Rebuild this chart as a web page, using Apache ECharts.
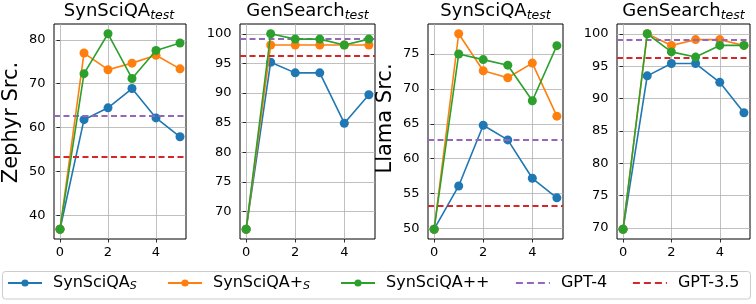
<!DOCTYPE html>
<html>
<head>
<meta charset="utf-8">
<script src="https://cdn.jsdelivr.net/npm/echarts@6/dist/echarts.min.js"></script>
<style>
  html, body { margin: 0; padding: 0; background: #fff; }
  #chart { width: 756px; height: 304px; }
</style>
</head>
<body>
<div id="chart"></div>
<script>
// x positions (steps)
const steps = [0, 1, 2, 3, 4, 5];

// Zephyr source, SynSciQA test
const zSciS      = [36.8, 61.8, 64.5, 68.9, 62.2, 57.9];
const zSciPlusS  = [36.8, 77.0, 73.2, 74.7, 76.5, 73.4];
const zSciPP     = [36.8, 72.3, 81.4, 71.2, 77.6, 79.3];
const zSciGpt4 = 62.7, zSciGpt35 = 53.3;

// Zephyr source, GenSearch test
const zGenS      = [67.0, 95.2, 93.4, 93.4, 84.9, 89.7];
const zGenPlusS  = [67.0, 98.1, 98.1, 98.1, 98.1, 98.1];
const zGenPP     = [67.0, 100.0, 99.1, 99.1, 98.1, 99.1];
const zGenGpt4 = 99.15, zGenGpt35 = 96.3;

// Llama source, SynSciQA test
const lSciS      = [49.9, 56.1, 64.8, 62.7, 57.2, 54.4];
const lSciPlusS  = [49.9, 77.9, 72.6, 71.6, 73.7, 66.1];
const lSciPP     = [49.9, 75.0, 74.2, 73.4, 68.3, 76.2];
const lSciGpt4 = 62.7, lSciGpt35 = 53.2;

// Llama source, GenSearch test
const lGenS      = [69.8, 93.5, 95.4, 95.4, 92.5, 87.8];
const lGenPlusS  = [69.8, 100.0, 98.2, 99.1, 99.1, 98.2];
const lGenPP     = [69.8, 100.0, 97.2, 96.4, 98.2, 98.2];
const lGenGpt4 = 99.1, lGenGpt35 = 96.3;

// tick labels
const xTicks = [0, 2, 4];
const yTicksZSci = [40, 50, 60, 70, 80];
const yTicksZGen = [70, 75, 80, 85, 90, 95, 100];
const yTicksLSci = [50, 55, 60, 65, 70, 75];
const yTicksLGen = [70, 75, 80, 85, 90, 95, 100];

const names = ['SynSciQA_S', 'SynSciQA+_S', 'SynSciQA++', 'GPT-4', 'GPT-3.5'];
const colors = ['#1f77b4', '#ff7f0e', '#2ca02c', '#9467bd', '#d62728'];
const FONT = 'DejaVu Sans';
const DASH = [6, 3.5];

const panels = [
  { title: 'SynSciQA', ylabel: 'Zephyr Src.', lift: 18, left: 52, width: 134, s: zSciS, p: zSciPlusS, pp: zSciPP, g4: zSciGpt4, g35: zSciGpt35, ticks: yTicksZSci },
  { title: 'GenSearch', ylabel: '', lift: 0, left: 240, width: 135, s: zGenS, p: zGenPlusS, pp: zGenPP, g4: zGenGpt4, g35: zGenGpt35, ticks: yTicksZGen },
  { title: 'SynSciQA', ylabel: 'Llama Src.', lift: 26, left: 428, width: 135, s: lSciS, p: lSciPlusS, pp: lSciPP, g4: lSciGpt4, g35: lSciGpt35, ticks: yTicksLSci },
  { title: 'GenSearch', ylabel: '', lift: 0, left: 617, width: 133, s: lGenS, p: lGenPlusS, pp: lGenPP, g4: lGenGpt4, g35: lGenGpt35, ticks: yTicksLGen }
];

const TOP = 24, HEIGHT = 215;

const grid = [], xAxis = [], yAxis = [], series = [], title = [];

panels.forEach(function (pn, i) {
  const all = pn.s.concat(pn.p, pn.pp, [pn.g4, pn.g35]);
  const lo = Math.min.apply(null, all), hi = Math.max.apply(null, all);
  const pad = (hi - lo) * 0.05;
  const ymin = lo - pad, ymax = hi + pad;
  const step = pn.ticks[1] - pn.ticks[0];

  grid.push({ left: pn.left, top: TOP, width: pn.width, height: HEIGHT,
    show: true, borderColor: '#000', borderWidth: 1, backgroundColor: 'transparent' });

  title.push({
    text: '{a|' + pn.title + '}{b|test}',
    left: pn.left + pn.width / 2, top: 0, padding: 0, textAlign: 'center',
    textStyle: {
      rich: {
        a: { fontFamily: FONT, fontSize: 18, fontWeight: 'normal', color: '#000', lineHeight: 22 },
        b: { fontFamily: FONT, fontSize: 12.5, fontWeight: 'normal', fontStyle: 'italic', color: '#000', verticalAlign: 'bottom', lineHeight: 12 }
      }
    }
  });

  xAxis.push({
    type: 'value', gridIndex: i, min: -0.25, max: 5.25, splitNumber: 3,
    axisLine: { show: false },
    axisTick: { show: true, length: 3.5, customValues: xTicks, lineStyle: { color: '#000', width: 0.8 } },
    axisLabel: { customValues: xTicks, margin: 7,
      fontFamily: FONT, fontSize: 13, color: '#000' },
    splitLine: { show: true, lineStyle: { color: '#b0b0b0', width: 0.8 } }
  });

  yAxis.push({
    type: 'value', gridIndex: i, min: ymin, max: ymax,
    splitNumber: Math.round((ymax - ymin) / step),
    name: pn.ylabel, nameLocation: 'middle', nameGap: 32,
    nameTextStyle: { fontFamily: FONT, fontSize: 21, color: '#000', padding: [0, 0, 0, pn.lift] },
    axisLine: { show: false },
    axisTick: { show: true, length: 3.5, customValues: pn.ticks, lineStyle: { color: '#000', width: 0.8 } },
    axisLabel: { customValues: pn.ticks, margin: 8.5,
      fontFamily: FONT, fontSize: 13, color: '#000' },
    splitLine: { show: true, lineStyle: { color: '#b0b0b0', width: 0.8 } }
  });

  [pn.s, pn.p, pn.pp].forEach(function (vals, k) {
    series.push({
      name: names[k], type: 'line', xAxisIndex: i, yAxisIndex: i,
      data: steps.map(function (x, j) { return [x, vals[j]]; }),
      symbol: 'circle', symbolSize: 9, showSymbol: true,
      color: colors[k],
      lineStyle: { width: 1.6, color: colors[k] },
      itemStyle: { color: colors[k] },
      emphasis: { disabled: true }, animation: false, z: 3 + k
    });
  });

  [pn.g4, pn.g35].forEach(function (v, k) {
    series.push({
      name: names[3 + k], type: 'line', xAxisIndex: i, yAxisIndex: i,
      data: [], symbol: 'none', color: colors[3 + k],
      lineStyle: { width: 1.8, type: DASH, color: colors[3 + k] },
      animation: false, z: 7,
      markLine: {
        silent: true, symbol: 'none', animation: false,
        label: { show: false },
        lineStyle: { width: 1.8, type: DASH, color: colors[3 + k] },
        data: [{ yAxis: v }]
      }
    });
  });
});

const legendLabels = {
  'SynSciQA_S': '{a|SynSciQA}{s|S}',
  'SynSciQA+_S': '{a|SynSciQA+}{s|S}',
  'SynSciQA++': '{a|SynSciQA++}',
  'GPT-4': '{a|GPT-4}',
  'GPT-3.5': '{a|GPT-3.5}'
};

// one legend entry per column, like matplotlib's ncol layout
const legendLeft = [7, 167, 340, 515, 632];
const legend = names.map(function (n, k) {
  const item = k < 3 ? { name: n } : { name: n, itemStyle: { opacity: 0 }, lineStyle: { type: [7, 4], width: 1.8 } };
  return {
    data: [item], left: legendLeft[k], top: 275, padding: 0,
    itemWidth: 34, itemHeight: 9,
    selectedMode: false,
    formatter: function (name) { return legendLabels[name]; },
    textStyle: {
      rich: {
        a: { fontFamily: FONT, fontSize: 16, color: '#000', padding: [0, 0, 0, 6], lineHeight: 18 },
        s: { fontFamily: FONT, fontSize: 11, fontStyle: 'italic', color: '#000', verticalAlign: 'bottom', lineHeight: 11 }
      }
    }
  };
});

const chart = echarts.init(document.getElementById('chart'), null, { renderer: 'canvas' });
chart.setOption({
  backgroundColor: '#fff',
  animation: false,
  title: title,
  grid: grid,
  xAxis: xAxis,
  yAxis: yAxis,
  legend: legend,
  graphic: [{
    type: 'rect', silent: true, z: -1,
    shape: { x: 2.5, y: 271.5, width: 748, height: 27.5, r: 3 },
    style: { fill: '#fff', stroke: '#cccccc', lineWidth: 1 }
  }],
  series: series
});
</script>
</body>
</html>
